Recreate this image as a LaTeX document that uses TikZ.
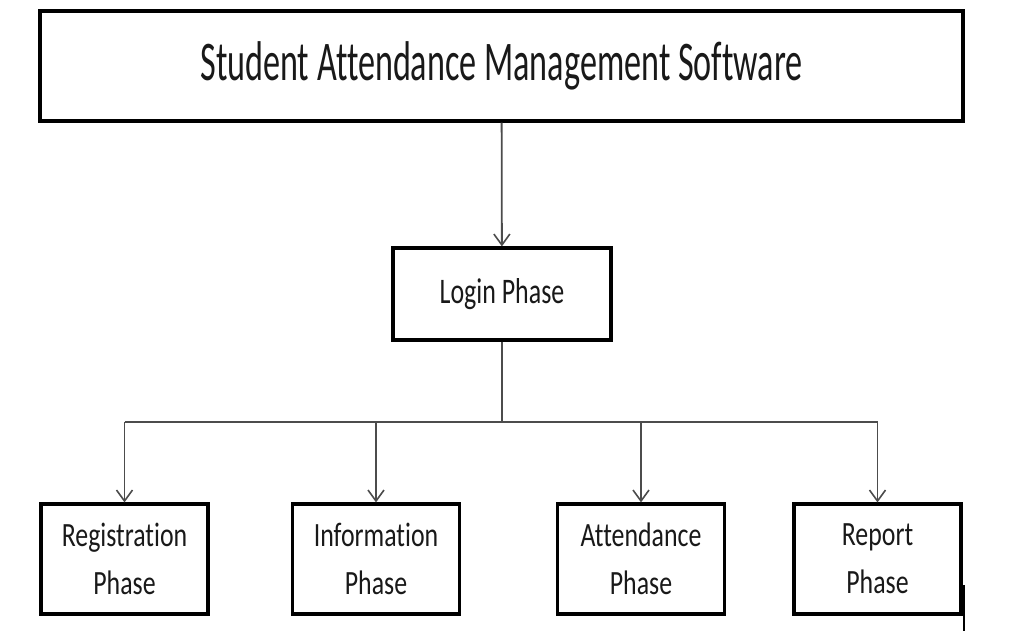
\documentclass[tikz,border=0pt]{standalone}
\usepackage{fontspec}
\setmainfont[FakeStretch=0.61,Ligatures=CommonOff]{Carlito}
\newfontfamily\loginfont[FakeStretch=0.72,Ligatures=CommonOff]{Carlito}
\newfontfamily\subfont[FakeStretch=0.76,Ligatures=CommonOff]{Carlito}
\usetikzlibrary{arrows.meta,positioning}
\tikzset{
  phase/.style={draw,rectangle,line width=3.2pt,text=black!90,align=center,
    inner sep=0pt},
  mainbox/.style={phase,minimum width=923pt,minimum height=110pt,
    font=\fontsize{56}{60}\selectfont},
  loginbox/.style={phase,minimum width=218pt,minimum height=92pt,
    font=\loginfont\fontsize{36}{40}\selectfont},
  subbox/.style={phase,minimum width=167pt,minimum height=110pt,
    font=\subfont\fontsize{34}{48}\selectfont},
  link/.style={draw=black!70,line width=1.8pt},
  flow/.style={link,-{Straight Barb[length=11pt,width=16pt,line width=1.6pt]}}
}
\begin{document}
\begin{tikzpicture}[x=1pt,y=-1pt]
  \useasboundingbox (0,0) rectangle (1034,631);

  \node[mainbox] (sams) at (501.5,66) {Student Attendance Management Software};
  \node[loginbox] (login) at (502,294) {Login Phase};

  \node[subbox] (reg)  at (124.5,559) {Registration\\Phase};
  \node[subbox] (info) at (376,559)   {Information\\Phase};
  \node[subbox] (att)  at (641,559)   {Attendance\\Phase};
  \node[subbox] (rep)  at (877.5,559) {Report\\Phase};

  \coordinate (bus) at (login.south |- 0,422);

  \path[flow] (sams) -- (login);
  \path[link] (login) -- (bus);
  \path[link] (reg.north |- bus) -- (rep.north |- bus);
  \foreach \p in {reg,info,att,rep}
    \path[flow] (\p.north |- bus) -- (\p.north);

  % stray mark at the lower right
  \coordinate (marktop) at (964,585);
  \coordinate (markend) at (964,631);
  \draw[line width=2.5pt] (marktop) -- (markend);
\end{tikzpicture}
\end{document}
